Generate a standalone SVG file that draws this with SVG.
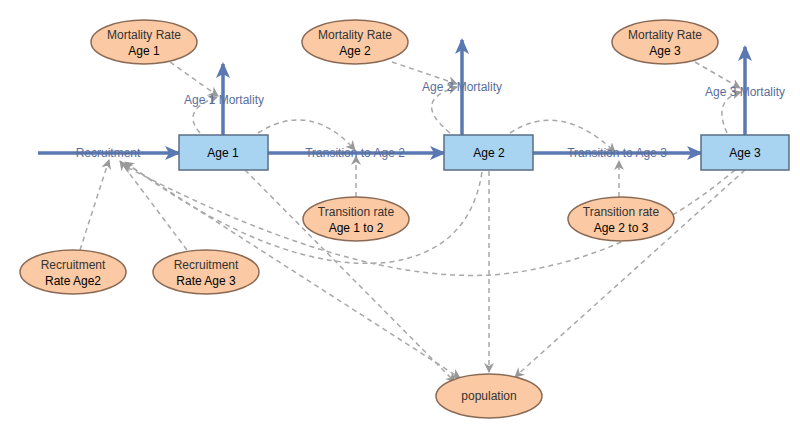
<svg xmlns="http://www.w3.org/2000/svg" width="800" height="429" viewBox="0 0 800 429">
<style>
text{font-family:"Liberation Sans",sans-serif;font-size:12px;text-anchor:middle;dominant-baseline:central}
.el{fill:#fbc9a4;stroke:#8a6a55;stroke-width:1.5}
.el+text,.lab{fill:#333}
.box{fill:#a8d4f2;stroke:#5a6e86;stroke-width:1.5}
.flow{stroke:#5a78b2;stroke-width:3.5;fill:none}
.fl{fill:#5a6e9a}
.dash{stroke:#a8a8a8;stroke-width:1.5;stroke-dasharray:5,4;fill:none;marker-end:url(#ga)}
</style>
<defs>
<marker id="ba" markerWidth="8" markerHeight="8" refX="6" refY="4" orient="auto" markerUnits="userSpaceOnUse" viewBox="0 0 8 8"><path d="M0,0L8,4L0,8L2,4z" fill="#5a78b2"/></marker>
<marker id="bigb" markerWidth="16" markerHeight="16" refX="14" refY="8" orient="auto" markerUnits="userSpaceOnUse"><path d="M0,1L16,8L0,15L4,8z" fill="#5a78b2"/></marker>
<marker id="ga" markerWidth="10" markerHeight="10" refX="9" refY="5" orient="auto" markerUnits="userSpaceOnUse"><path d="M0,0L10,5L0,10L3,5z" fill="#999"/></marker>
</defs>
<rect width="800" height="429" fill="#fff"/>
<g id="connectors">
<path class="flow" d="M38,153H179" marker-end="url(#bigb)"/>
<path class="flow" d="M268,153H444" marker-end="url(#bigb)"/>
<path class="flow" d="M533,153H701" marker-end="url(#bigb)"/>
<path class="flow" d="M223,135V64" marker-end="url(#bigb)"/>
<path class="flow" d="M462,135V40" marker-end="url(#bigb)"/>
<path class="flow" d="M745,135V47" marker-end="url(#bigb)"/>
<path class="dash" d="M170,62L218,96"/>
<path class="dash" d="M200,133Q180,110 217,97"/>
<path class="dash" d="M258,133Q310,100 355,150"/>
<path class="dash" d="M356,197V156"/>
<path class="dash" d="M392,62L457,84"/>
<path class="dash" d="M450,133Q410,100 457,87"/>
<path class="dash" d="M510,133Q560,100 615,152"/>
<path class="dash" d="M619,197V161"/>
<path class="dash" d="M695,62L740,88"/>
<path class="dash" d="M727,133Q712,100 741,92"/>
<path class="dash" d="M80,250L109,160"/>
<path class="dash" d="M187,250L120,161"/>
<path class="dash" d="M245,170L455,382"/>
<path class="dash" d="M489,171V372"/>
<path class="dash" d="M745,170L515,377"/>
<path class="dash" d="M125,163L460,378"/>
<path class="dash" d="M482,172Q470,250 390,262Q280,275 125,162"/>
<path class="dash" d="M735,170Q640,250 530,270Q380,300 123,165"/>
</g>
<g class="lab">
<text x="108" y="153" style="fill:#5a6e9a">Recruitment</text>
<text x="355" y="153" style="fill:#5a6e9a">Transition to Age 2</text>
<text x="617" y="153" style="fill:#5a6e9a">Transition to Age 3</text>
<text x="224" y="100" style="fill:#5a6e9a">Age 1 Mortality</text>
<text x="462" y="87" style="fill:#5a6e9a">Age 2 Mortality</text>
<text x="745" y="92" style="fill:#5a6e9a">Age 3 Mortality</text>
</g>
<g id="age1"><rect class="box" x="179" y="135" width="89" height="35"/><text x="223" y="153">Age 1</text></g>
<g id="age2"><rect class="box" x="444" y="135" width="89" height="35"/><text x="489" y="153">Age 2</text></g>
<g id="age3"><rect class="box" x="701" y="135" width="88" height="35"/><text x="745" y="153">Age 3</text></g>
<g id="mr1"><ellipse class="el" cx="144" cy="42" rx="53" ry="22"/><text x="144" y="35">Mortality Rate</text><text x="144" y="51">Age 1</text></g>
<g id="mr2"><ellipse class="el" cx="355" cy="42" rx="53" ry="22"/><text x="355" y="35">Mortality Rate</text><text x="355" y="51">Age 2</text></g>
<g id="mr3"><ellipse class="el" cx="665" cy="42" rx="53" ry="22"/><text x="665" y="35">Mortality Rate</text><text x="665" y="51">Age 3</text></g>
<g id="tr1"><ellipse class="el" cx="356" cy="219" rx="53" ry="22"/><text x="356" y="212">Transition rate</text><text x="356" y="228">Age 1 to 2</text></g>
<g id="tr2"><ellipse class="el" cx="621" cy="219" rx="53" ry="22"/><text x="621" y="212">Transition rate</text><text x="621" y="228">Age 2 to 3</text></g>
<g id="rr2"><ellipse class="el" cx="73" cy="272" rx="53" ry="22"/><text x="73" y="265">Recruitment</text><text x="73" y="281">Rate Age2</text></g>
<g id="rr3"><ellipse class="el" cx="206" cy="272" rx="53" ry="22"/><text x="206" y="265">Recruitment</text><text x="206" y="281">Rate Age 3</text></g>
<g id="population"><ellipse class="el" cx="489" cy="396" rx="53" ry="22"/><text x="489" y="396">population</text></g>
</svg>
